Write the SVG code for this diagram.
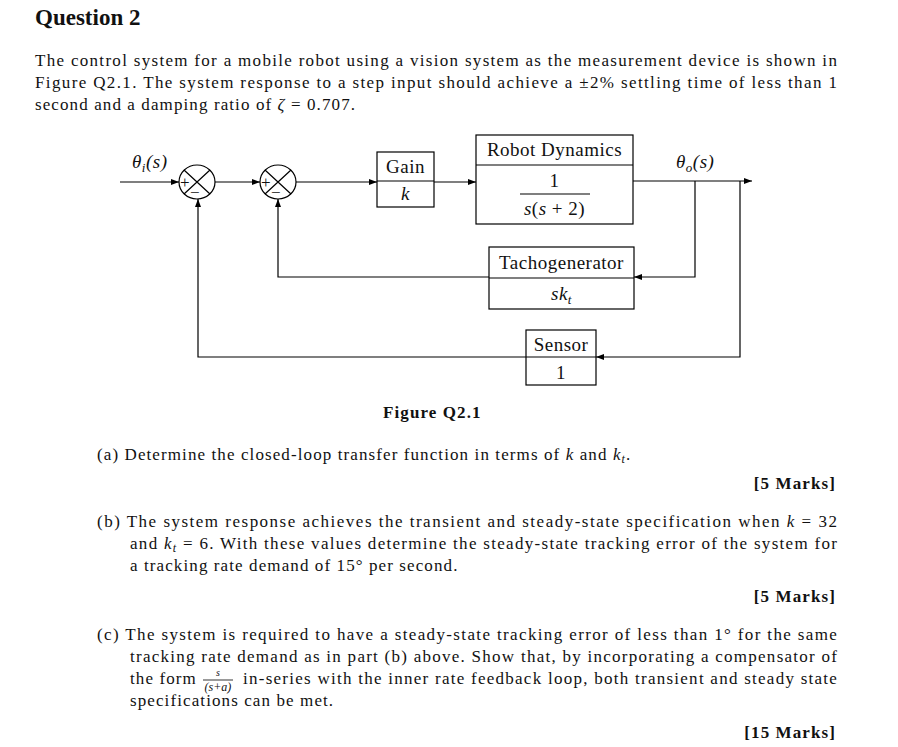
<svg xmlns="http://www.w3.org/2000/svg" width="898" height="747" viewBox="0 0 898 747">
<defs>
<marker id="ar" markerWidth="8" markerHeight="6" refX="8" refY="3" orient="auto" markerUnits="userSpaceOnUse"><path d="M0,0 L8,3 L0,6 z" fill="#000"/></marker>
<style>
text{font-family:"Liberation Serif","DejaVu Serif",serif;fill:#111}
.p{font-size:17px;letter-spacing:1.1px}
.b{font-weight:bold}
.m{font-style:italic}
.box{fill:#fff;stroke:#000;stroke-width:1.2}
.ln{fill:none;stroke:#000;stroke-width:1.2}
.bl{font-size:19px;letter-spacing:0.5px}
</style>
</defs>
<rect width="898" height="747" fill="#fff"/>
<text x="35" y="25" class="b" font-size="23">Question 2</text>
<text class="p" x="35" y="66" textLength="803" lengthAdjust="spacing">The control system for a mobile robot using a vision system as the measurement device is shown in</text>
<text class="p" x="35" y="88" textLength="803" lengthAdjust="spacing">Figure Q2.1. The system response to a step input should achieve a ±2% settling time of less than 1</text>
<text class="p" x="35" y="110">second and a damping ratio of <tspan class="m">ζ</tspan> = 0.707.</text>

<g id="connectors" class="ln">
<path d="M120,182 H179" marker-end="url(#ar)"/>
<path d="M215,182 H260" marker-end="url(#ar)"/>
<path d="M296,182 H377" marker-end="url(#ar)"/>
<path d="M434,182 H476" marker-end="url(#ar)"/>
<path d="M633,181 H752" marker-end="url(#ar)"/>
<path d="M695,181 V277 H634" marker-end="url(#ar)"/>
<path d="M489,277 H278 V199" marker-end="url(#ar)"/>
<path d="M740,181 V357 H596" marker-end="url(#ar)"/>
<path d="M526,357 H198 V199" marker-end="url(#ar)"/>
</g>
<text x="132" y="168" class="bl m">θ<tspan font-size="13" dy="4">i</tspan><tspan dy="-4">(s)</tspan></text>
<text x="676" y="168" class="bl m">θ<tspan font-size="13" dy="4">o</tspan><tspan dy="-4">(s)</tspan></text>

<g id="sum1">
<ellipse cx="197" cy="182" rx="18" ry="17" class="box"/>
<path class="ln" d="M184,170 L210,194 M210,170 L184,194"/>
<text x="180" y="188" font-size="17" fill="#333">+</text>
<text x="190" y="198" font-size="17">−</text>
</g>
<g id="sum2">
<ellipse cx="278" cy="182" rx="18" ry="17" class="box"/>
<path class="ln" d="M265,170 L291,194 M291,170 L265,194"/>
<text x="261" y="188" font-size="17" fill="#333">+</text>
<text x="271" y="198" font-size="17">−</text>
</g>
<g id="gain">
<rect x="377" y="152" width="57" height="55" class="box"/>
<line x1="377" y1="181" x2="434" y2="181" class="ln"/>
<text x="405.5" y="173" class="bl" text-anchor="middle">Gain</text>
<text x="405.5" y="200" class="bl m" text-anchor="middle">k</text>
</g>
<g id="robot">
<rect x="476" y="135" width="157" height="89" class="box"/>
<line x1="476" y1="165" x2="633" y2="165" class="ln"/>
<text x="554.5" y="156" class="bl" text-anchor="middle">Robot Dynamics</text>
<text x="554.5" y="187" class="bl" text-anchor="middle">1</text>
<line x1="520" y1="194" x2="590" y2="194" class="ln"/>
<text x="554.5" y="215" class="bl" text-anchor="middle"><tspan class="m">s</tspan>(<tspan class="m">s</tspan> + 2)</text>
</g>
<g id="tacho">
<rect x="489" y="247" width="145" height="62" class="box"/>
<line x1="489" y1="278" x2="634" y2="278" class="ln"/>
<text x="561.5" y="269" class="bl" text-anchor="middle">Tachogenerator</text>
<text x="561.5" y="300" class="bl m" text-anchor="middle">sk<tspan font-size="13" dy="4">t</tspan></text>
</g>
<g id="sensor">
<rect x="526" y="330" width="70" height="55" class="box"/>
<line x1="526" y1="357" x2="596" y2="357" class="ln"/>
<text x="561" y="351" class="bl" text-anchor="middle">Sensor</text>
<text x="561" y="379" class="bl" text-anchor="middle">1</text>
</g>

<text x="383" y="418" class="p b">Figure Q2.1</text>
<text class="p" x="97" y="460">(a) Determine the closed-loop transfer function in terms of <tspan class="m">k</tspan> and <tspan class="m">k</tspan><tspan font-size="12" dy="3" class="m">t</tspan><tspan dy="-3">.</tspan></text>
<text class="p b" x="836" y="489" text-anchor="end">[5 Marks]</text>
<text class="p" x="97" y="527" textLength="741" lengthAdjust="spacing">(b) The system response achieves the transient and steady-state specification when <tspan class="m">k</tspan> = 32</text>
<text class="p" x="130" y="549" textLength="708" lengthAdjust="spacing">and <tspan class="m">k</tspan><tspan font-size="12" dy="3" class="m">t</tspan><tspan dy="-3"> = 6. With these values determine the steady-state tracking error of the system for</tspan></text>
<text class="p" x="130" y="571">a tracking rate demand of 15° per second.</text>
<text class="p b" x="836" y="602" text-anchor="end">[5 Marks]</text>
<text class="p" x="97" y="640" textLength="741" lengthAdjust="spacing">(c) The system is required to have a steady-state tracking error of less than 1° for the same</text>
<text class="p" x="130" y="662" textLength="708" lengthAdjust="spacing">tracking rate demand as in part (b) above. Show that, by incorporating a compensator of</text>
<text class="p" x="130" y="684">the form</text>
<text x="218" y="676" font-size="10" class="m" text-anchor="middle">s</text>
<line x1="203" y1="680" x2="233" y2="680" stroke="#000" stroke-width="0.8"/>
<text x="218" y="691" font-size="12" class="m" text-anchor="middle">(s+a)</text>
<text class="p" x="243" y="684" textLength="595" lengthAdjust="spacing">in-series with the inner rate feedback loop, both transient and steady state</text>
<text class="p" x="130" y="706">specifications can be met.</text>
<text class="p b" x="836" y="738" text-anchor="end">[15 Marks]</text>
</svg>
